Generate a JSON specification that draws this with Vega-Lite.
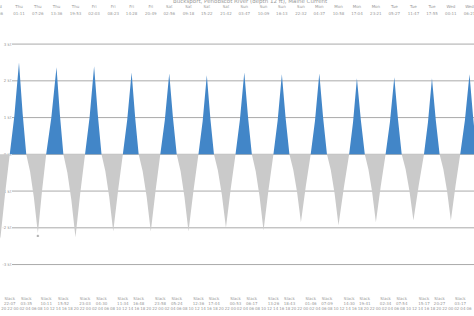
{
  "$schema": "https://vega.github.io/schema/vega-lite/v6.json",
  "width": 474,
  "height": 316,
  "autosize": {"type": "none"},
  "padding": 0,
  "background": "white",
  "config": {"view": {"stroke": null}, "font": "DejaVu Sans"},
  "resolve": {"axis": {"x": "independent", "y": "independent"}},
  "datasets": {
    "grid": [
      {"v": 3, "t0": -1.14, "t1": 151.84},
      {"v": 2, "t0": -1.14, "t1": 151.84},
      {"v": 1, "t0": -1.14, "t1": 151.84},
      {"v": 0, "t0": -1.14, "t1": 151.84},
      {"v": -1, "t0": -1.14, "t1": 151.84},
      {"v": -2, "t0": -1.14, "t1": 151.84},
      {"v": -3, "t0": -1.14, "t1": 151.84}
    ],
    "curve": [
      {"t": -6.6, "v": -1.3, "seg": "e0", "ph": "ebb"},
      {"t": -5.0, "v": -2.3, "seg": "e0", "ph": "ebb"},
      {"t": -3.4, "v": -1.05, "seg": "e0", "ph": "ebb"},
      {"t": -1.88, "v": 0, "seg": "e0", "ph": "ebb"},
      {"t": -1.88, "v": 0, "seg": "f1", "ph": "flood"},
      {"t": -0.35, "v": 1.05, "seg": "f1", "ph": "flood"},
      {"t": 1.18, "v": 2.5, "seg": "f1", "ph": "flood"},
      {"t": 2.38, "v": 1.12, "seg": "f1", "ph": "flood"},
      {"t": 3.58, "v": 0, "seg": "f1", "ph": "flood"},
      {"t": 3.58, "v": 0, "seg": "e1", "ph": "ebb"},
      {"t": 4.85, "v": -0.47, "seg": "e1", "ph": "ebb"},
      {"t": 6.12, "v": -1.18, "seg": "e1", "ph": "ebb"},
      {"t": 7.43, "v": -2.15, "seg": "e1", "ph": "ebb"},
      {"t": 8.8, "v": -1.0, "seg": "e1", "ph": "ebb"},
      {"t": 10.18, "v": 0, "seg": "e1", "ph": "ebb"},
      {"t": 10.18, "v": 0, "seg": "f2", "ph": "flood"},
      {"t": 11.89, "v": 1.0, "seg": "f2", "ph": "flood"},
      {"t": 13.6, "v": 2.37, "seg": "f2", "ph": "flood"},
      {"t": 14.73, "v": 1.07, "seg": "f2", "ph": "flood"},
      {"t": 15.87, "v": 0, "seg": "f2", "ph": "flood"},
      {"t": 15.87, "v": 0, "seg": "e2", "ph": "ebb"},
      {"t": 17.2, "v": -0.5, "seg": "e2", "ph": "ebb"},
      {"t": 18.52, "v": -1.24, "seg": "e2", "ph": "ebb"},
      {"t": 19.88, "v": -2.26, "seg": "e2", "ph": "ebb"},
      {"t": 21.46, "v": -1.06, "seg": "e2", "ph": "ebb"},
      {"t": 23.05, "v": 0, "seg": "e2", "ph": "ebb"},
      {"t": 23.05, "v": 0, "seg": "f3", "ph": "flood"},
      {"t": 24.55, "v": 1.0, "seg": "f3", "ph": "flood"},
      {"t": 26.05, "v": 2.4, "seg": "f3", "ph": "flood"},
      {"t": 27.28, "v": 1.08, "seg": "f3", "ph": "flood"},
      {"t": 28.5, "v": 0, "seg": "f3", "ph": "flood"},
      {"t": 28.5, "v": 0, "seg": "e3", "ph": "ebb"},
      {"t": 29.78, "v": -0.46, "seg": "e3", "ph": "ebb"},
      {"t": 31.06, "v": -1.16, "seg": "e3", "ph": "ebb"},
      {"t": 32.38, "v": -2.1, "seg": "e3", "ph": "ebb"},
      {"t": 33.98, "v": -0.99, "seg": "e3", "ph": "ebb"},
      {"t": 35.57, "v": 0, "seg": "e3", "ph": "ebb"},
      {"t": 35.57, "v": 0, "seg": "f4", "ph": "flood"},
      {"t": 37.02, "v": 0.94, "seg": "f4", "ph": "flood"},
      {"t": 38.47, "v": 2.23, "seg": "f4", "ph": "flood"},
      {"t": 39.64, "v": 1.0, "seg": "f4", "ph": "flood"},
      {"t": 40.8, "v": 0, "seg": "f4", "ph": "flood"},
      {"t": 40.8, "v": 0, "seg": "e4", "ph": "ebb"},
      {"t": 42.13, "v": -0.46, "seg": "e4", "ph": "ebb"},
      {"t": 43.46, "v": -1.16, "seg": "e4", "ph": "ebb"},
      {"t": 44.82, "v": -2.1, "seg": "e4", "ph": "ebb"},
      {"t": 46.4, "v": -0.99, "seg": "e4", "ph": "ebb"},
      {"t": 47.97, "v": 0, "seg": "e4", "ph": "ebb"},
      {"t": 47.97, "v": 0, "seg": "f5", "ph": "flood"},
      {"t": 49.45, "v": 0.92, "seg": "f5", "ph": "flood"},
      {"t": 50.93, "v": 2.2, "seg": "f5", "ph": "flood"},
      {"t": 52.17, "v": 0.99, "seg": "f5", "ph": "flood"},
      {"t": 53.4, "v": 0, "seg": "f5", "ph": "flood"},
      {"t": 53.4, "v": 0, "seg": "e5", "ph": "ebb"},
      {"t": 54.69, "v": -0.46, "seg": "e5", "ph": "ebb"},
      {"t": 55.97, "v": -1.16, "seg": "e5", "ph": "ebb"},
      {"t": 57.3, "v": -2.1, "seg": "e5", "ph": "ebb"},
      {"t": 58.95, "v": -0.99, "seg": "e5", "ph": "ebb"},
      {"t": 60.6, "v": 0, "seg": "e5", "ph": "ebb"},
      {"t": 60.6, "v": 0, "seg": "f6", "ph": "flood"},
      {"t": 61.99, "v": 0.9, "seg": "f6", "ph": "flood"},
      {"t": 63.37, "v": 2.15, "seg": "f6", "ph": "flood"},
      {"t": 64.55, "v": 0.97, "seg": "f6", "ph": "flood"},
      {"t": 65.73, "v": 0, "seg": "f6", "ph": "flood"},
      {"t": 65.73, "v": 0, "seg": "e6", "ph": "ebb"},
      {"t": 67.04, "v": -0.44, "seg": "e6", "ph": "ebb"},
      {"t": 68.35, "v": -1.1, "seg": "e6", "ph": "ebb"},
      {"t": 69.7, "v": -2.0, "seg": "e6", "ph": "ebb"},
      {"t": 71.29, "v": -0.94, "seg": "e6", "ph": "ebb"},
      {"t": 72.88, "v": 0, "seg": "e6", "ph": "ebb"},
      {"t": 72.88, "v": 0, "seg": "f7", "ph": "flood"},
      {"t": 74.33, "v": 0.94, "seg": "f7", "ph": "flood"},
      {"t": 75.78, "v": 2.23, "seg": "f7", "ph": "flood"},
      {"t": 77.03, "v": 1.0, "seg": "f7", "ph": "flood"},
      {"t": 78.28, "v": 0, "seg": "f7", "ph": "flood"},
      {"t": 78.28, "v": 0, "seg": "e7", "ph": "ebb"},
      {"t": 79.56, "v": -0.46, "seg": "e7", "ph": "ebb"},
      {"t": 80.83, "v": -1.14, "seg": "e7", "ph": "ebb"},
      {"t": 82.15, "v": -2.07, "seg": "e7", "ph": "ebb"},
      {"t": 83.79, "v": -0.97, "seg": "e7", "ph": "ebb"},
      {"t": 85.43, "v": 0, "seg": "e7", "ph": "ebb"},
      {"t": 85.43, "v": 0, "seg": "f8", "ph": "flood"},
      {"t": 86.83, "v": 0.92, "seg": "f8", "ph": "flood"},
      {"t": 88.22, "v": 2.18, "seg": "f8", "ph": "flood"},
      {"t": 89.47, "v": 0.98, "seg": "f8", "ph": "flood"},
      {"t": 90.72, "v": 0, "seg": "f8", "ph": "flood"},
      {"t": 90.72, "v": 0, "seg": "e8", "ph": "ebb"},
      {"t": 91.98, "v": -0.41, "seg": "e8", "ph": "ebb"},
      {"t": 93.24, "v": -1.02, "seg": "e8", "ph": "ebb"},
      {"t": 94.53, "v": -1.85, "seg": "e8", "ph": "ebb"},
      {"t": 96.15, "v": -0.87, "seg": "e8", "ph": "ebb"},
      {"t": 97.77, "v": 0, "seg": "e8", "ph": "ebb"},
      {"t": 97.77, "v": 0, "seg": "f9", "ph": "flood"},
      {"t": 99.2, "v": 0.92, "seg": "f9", "ph": "flood"},
      {"t": 100.62, "v": 2.2, "seg": "f9", "ph": "flood"},
      {"t": 101.89, "v": 0.99, "seg": "f9", "ph": "flood"},
      {"t": 103.15, "v": 0, "seg": "f9", "ph": "flood"},
      {"t": 103.15, "v": 0, "seg": "e9", "ph": "ebb"},
      {"t": 104.41, "v": -0.42, "seg": "e9", "ph": "ebb"},
      {"t": 105.67, "v": -1.06, "seg": "e9", "ph": "ebb"},
      {"t": 106.97, "v": -1.93, "seg": "e9", "ph": "ebb"},
      {"t": 108.74, "v": -0.91, "seg": "e9", "ph": "ebb"},
      {"t": 110.5, "v": 0, "seg": "e9", "ph": "ebb"},
      {"t": 110.5, "v": 0, "seg": "f10", "ph": "flood"},
      {"t": 111.79, "v": 0.87, "seg": "f10", "ph": "flood"},
      {"t": 113.07, "v": 2.07, "seg": "f10", "ph": "flood"},
      {"t": 114.38, "v": 0.93, "seg": "f10", "ph": "flood"},
      {"t": 115.68, "v": 0, "seg": "f10", "ph": "flood"},
      {"t": 115.68, "v": 0, "seg": "e10", "ph": "ebb"},
      {"t": 116.89, "v": -0.41, "seg": "e10", "ph": "ebb"},
      {"t": 118.1, "v": -1.02, "seg": "e10", "ph": "ebb"},
      {"t": 119.35, "v": -1.85, "seg": "e10", "ph": "ebb"},
      {"t": 120.96, "v": -0.87, "seg": "e10", "ph": "ebb"},
      {"t": 122.57, "v": 0, "seg": "e10", "ph": "ebb"},
      {"t": 122.57, "v": 0, "seg": "f11", "ph": "flood"},
      {"t": 124.01, "v": 0.88, "seg": "f11", "ph": "flood"},
      {"t": 125.45, "v": 2.1, "seg": "f11", "ph": "flood"},
      {"t": 126.68, "v": 0.95, "seg": "f11", "ph": "flood"},
      {"t": 127.9, "v": 0, "seg": "f11", "ph": "flood"},
      {"t": 127.9, "v": 0, "seg": "e11", "ph": "ebb"},
      {"t": 129.18, "v": -0.4, "seg": "e11", "ph": "ebb"},
      {"t": 130.46, "v": -0.99, "seg": "e11", "ph": "ebb"},
      {"t": 131.78, "v": -1.8, "seg": "e11", "ph": "ebb"},
      {"t": 133.53, "v": -0.85, "seg": "e11", "ph": "ebb"},
      {"t": 135.28, "v": 0, "seg": "e11", "ph": "ebb"},
      {"t": 135.28, "v": 0, "seg": "f12", "ph": "flood"},
      {"t": 136.6, "v": 0.87, "seg": "f12", "ph": "flood"},
      {"t": 137.92, "v": 2.07, "seg": "f12", "ph": "flood"},
      {"t": 139.19, "v": 0.93, "seg": "f12", "ph": "flood"},
      {"t": 140.45, "v": 0, "seg": "f12", "ph": "flood"},
      {"t": 140.45, "v": 0, "seg": "e12", "ph": "ebb"},
      {"t": 141.68, "v": -0.4, "seg": "e12", "ph": "ebb"},
      {"t": 142.91, "v": -0.99, "seg": "e12", "ph": "ebb"},
      {"t": 144.18, "v": -1.8, "seg": "e12", "ph": "ebb"},
      {"t": 145.73, "v": -0.85, "seg": "e12", "ph": "ebb"},
      {"t": 147.28, "v": 0, "seg": "e12", "ph": "ebb"},
      {"t": 147.28, "v": 0, "seg": "f13", "ph": "flood"},
      {"t": 148.82, "v": 0.92, "seg": "f13", "ph": "flood"},
      {"t": 150.35, "v": 2.18, "seg": "f13", "ph": "flood"},
      {"t": 151.58, "v": 0.98, "seg": "f13", "ph": "flood"},
      {"t": 152.8, "v": 0, "seg": "f13", "ph": "flood"}
    ],
    "tops": [
      {"t": -6.0, "day": "Wed", "time": "20:56"},
      {"t": 1.18, "day": "Thu", "time": "01:11"},
      {"t": 7.43, "day": "Thu", "time": "07:26"},
      {"t": 13.6, "day": "Thu", "time": "13:36"},
      {"t": 19.88, "day": "Thu", "time": "19:53"},
      {"t": 26.05, "day": "Fri", "time": "02:03"},
      {"t": 32.38, "day": "Fri", "time": "08:23"},
      {"t": 38.47, "day": "Fri", "time": "14:28"},
      {"t": 44.82, "day": "Fri", "time": "20:49"},
      {"t": 50.93, "day": "Sat", "time": "02:56"},
      {"t": 57.3, "day": "Sat", "time": "09:18"},
      {"t": 63.37, "day": "Sat", "time": "15:22"},
      {"t": 69.7, "day": "Sat", "time": "21:42"},
      {"t": 75.78, "day": "Sun", "time": "03:47"},
      {"t": 82.15, "day": "Sun", "time": "10:09"},
      {"t": 88.22, "day": "Sun", "time": "16:13"},
      {"t": 94.53, "day": "Sun", "time": "22:32"},
      {"t": 100.62, "day": "Mon", "time": "04:37"},
      {"t": 106.97, "day": "Mon", "time": "10:58"},
      {"t": 113.07, "day": "Mon", "time": "17:04"},
      {"t": 119.35, "day": "Mon", "time": "23:21"},
      {"t": 125.45, "day": "Tue", "time": "05:27"},
      {"t": 131.78, "day": "Tue", "time": "11:47"},
      {"t": 137.92, "day": "Tue", "time": "17:55"},
      {"t": 144.18, "day": "Wed", "time": "00:11"},
      {"t": 150.35, "day": "Wed", "time": "06:21"}
    ],
    "slacks": [
      {"t": -1.88, "time": "22:07"},
      {"t": 3.58, "time": "03:35"},
      {"t": 10.18, "time": "10:11"},
      {"t": 15.87, "time": "15:52"},
      {"t": 23.05, "time": "23:03"},
      {"t": 28.5, "time": "04:30"},
      {"t": 35.57, "time": "11:34"},
      {"t": 40.8, "time": "16:48"},
      {"t": 47.97, "time": "23:58"},
      {"t": 53.4, "time": "05:24"},
      {"t": 60.6, "time": "12:36"},
      {"t": 65.73, "time": "17:44"},
      {"t": 72.88, "time": "00:53"},
      {"t": 78.28, "time": "06:17"},
      {"t": 85.43, "time": "13:26"},
      {"t": 90.72, "time": "18:43"},
      {"t": 97.77, "time": "01:46"},
      {"t": 103.15, "time": "07:09"},
      {"t": 110.5, "time": "14:30"},
      {"t": 115.68, "time": "19:41"},
      {"t": 122.57, "time": "02:34"},
      {"t": 127.9, "time": "07:54"},
      {"t": 135.28, "time": "15:17"},
      {"t": 140.45, "time": "20:27"},
      {"t": 147.28, "time": "03:17"}
    ],
    "marker": [
      {"t": 7.43, "v": -2.22}
    ],
    "title": [
      {"t": 77.7, "text": "Bucksport, Penobscot River (depth 12 ft), Maine Current"}
    ]
  },
  "layer": [
    {
      "data": {"name": "grid"},
      "mark": {"type": "rule", "color": "#aaaaaa", "strokeWidth": 1},
      "encoding": {
        "x": {"field": "t0", "type": "quantitative", "scale": {"domain": [-5.11, 151.84], "nice": false, "zero": false}, "axis": {"orient": "bottom", "offset": -10, "title": null, "domain": false, "ticks": false, "grid": false, "labelPadding": 0, "labelFontSize": 4, "labelColor": "#999999", "labelFont": "DejaVu Sans", "labelOverlap": false, "labelBaseline": "top", "labelFlush": false, "labelBound": false, "values": [-4,-2,0,2,4,6,8,10,12,14,16,18,20,22,24,26,28,30,32,34,36,38,40,42,44,46,48,50,52,54,56,58,60,62,64,66,68,70,72,74,76,78,80,82,84,86,88,90,92,94,96,98,100,102,104,106,108,110,112,114,116,118,120,122,124,126,128,130,132,134,136,138,140,142,144,146,148,150], "labelExpr": "format(((datum.value % 24) + 24) % 24, '02d')"}},
        "x2": {"field": "t1"},
        "y": {"field": "v", "type": "quantitative", "scale": {"domain": [-4.4, 4.2], "nice": false, "zero": false}, "axis": {"orient": "left", "offset": -12, "title": null, "domain": false, "ticks": false, "grid": false, "labelPadding": 1, "labelFontSize": 4, "labelColor": "#999999", "labelFont": "DejaVu Sans", "labelFlush": false, "values": [-3,-2,-1,0,1,2,3], "labelExpr": "datum.value + ' kt'"}}
      }
    },
    {
      "data": {"name": "curve"},
      "mark": {"type": "area", "interpolate": "linear", "clip": true},
      "encoding": {
        "x": {"field": "t", "type": "quantitative", "axis": null},
        "y": {"field": "v", "type": "quantitative", "axis": null},
        "y2": {"datum": 0},
        "detail": {"field": "seg", "type": "nominal"},
        "color": {"field": "ph", "type": "nominal", "scale": {"domain": ["flood", "ebb"], "range": ["#4286c8", "#cacaca"]}, "legend": null}
      }
    },
    {
      "data": {"name": "marker"},
      "mark": {"type": "point", "shape": "cross", "filled": true, "size": 6, "color": "#777777"},
      "encoding": {
        "x": {"field": "t", "type": "quantitative", "axis": null},
        "y": {"field": "v", "type": "quantitative", "axis": null}
      }
    },
    {
      "data": {"name": "tops"},
      "mark": {"type": "text", "fontSize": 4, "color": "#999999", "baseline": "middle", "align": "center"},
      "encoding": {
        "x": {"field": "t", "type": "quantitative", "axis": null},
        "y": {"datum": 4.02, "axis": null},
        "text": {"field": "day"}
      }
    },
    {
      "data": {"name": "tops"},
      "mark": {"type": "text", "fontSize": 4, "color": "#999999", "baseline": "middle", "align": "center"},
      "encoding": {
        "x": {"field": "t", "type": "quantitative", "axis": null},
        "y": {"datum": 3.82, "axis": null},
        "text": {"field": "time"}
      }
    },
    {
      "data": {"name": "slacks"},
      "mark": {"type": "text", "fontSize": 4, "color": "#999999", "baseline": "middle", "align": "center"},
      "encoding": {
        "x": {"field": "t", "type": "quantitative", "axis": null},
        "y": {"datum": -3.94, "axis": null},
        "text": {"value": "Slack"}
      }
    },
    {
      "data": {"name": "slacks"},
      "mark": {"type": "text", "fontSize": 4, "color": "#999999", "baseline": "middle", "align": "center"},
      "encoding": {
        "x": {"field": "t", "type": "quantitative", "axis": null},
        "y": {"datum": -4.07, "axis": null},
        "text": {"field": "time"}
      }
    },
    {
      "data": {"name": "title"},
      "mark": {"type": "text", "fontSize": 5.5, "color": "#999999", "baseline": "alphabetic", "align": "center"},
      "encoding": {
        "x": {"field": "t", "type": "quantitative", "axis": null},
        "y": {"datum": 4.12, "axis": null},
        "text": {"field": "text"}
      }
    }
  ]
}
